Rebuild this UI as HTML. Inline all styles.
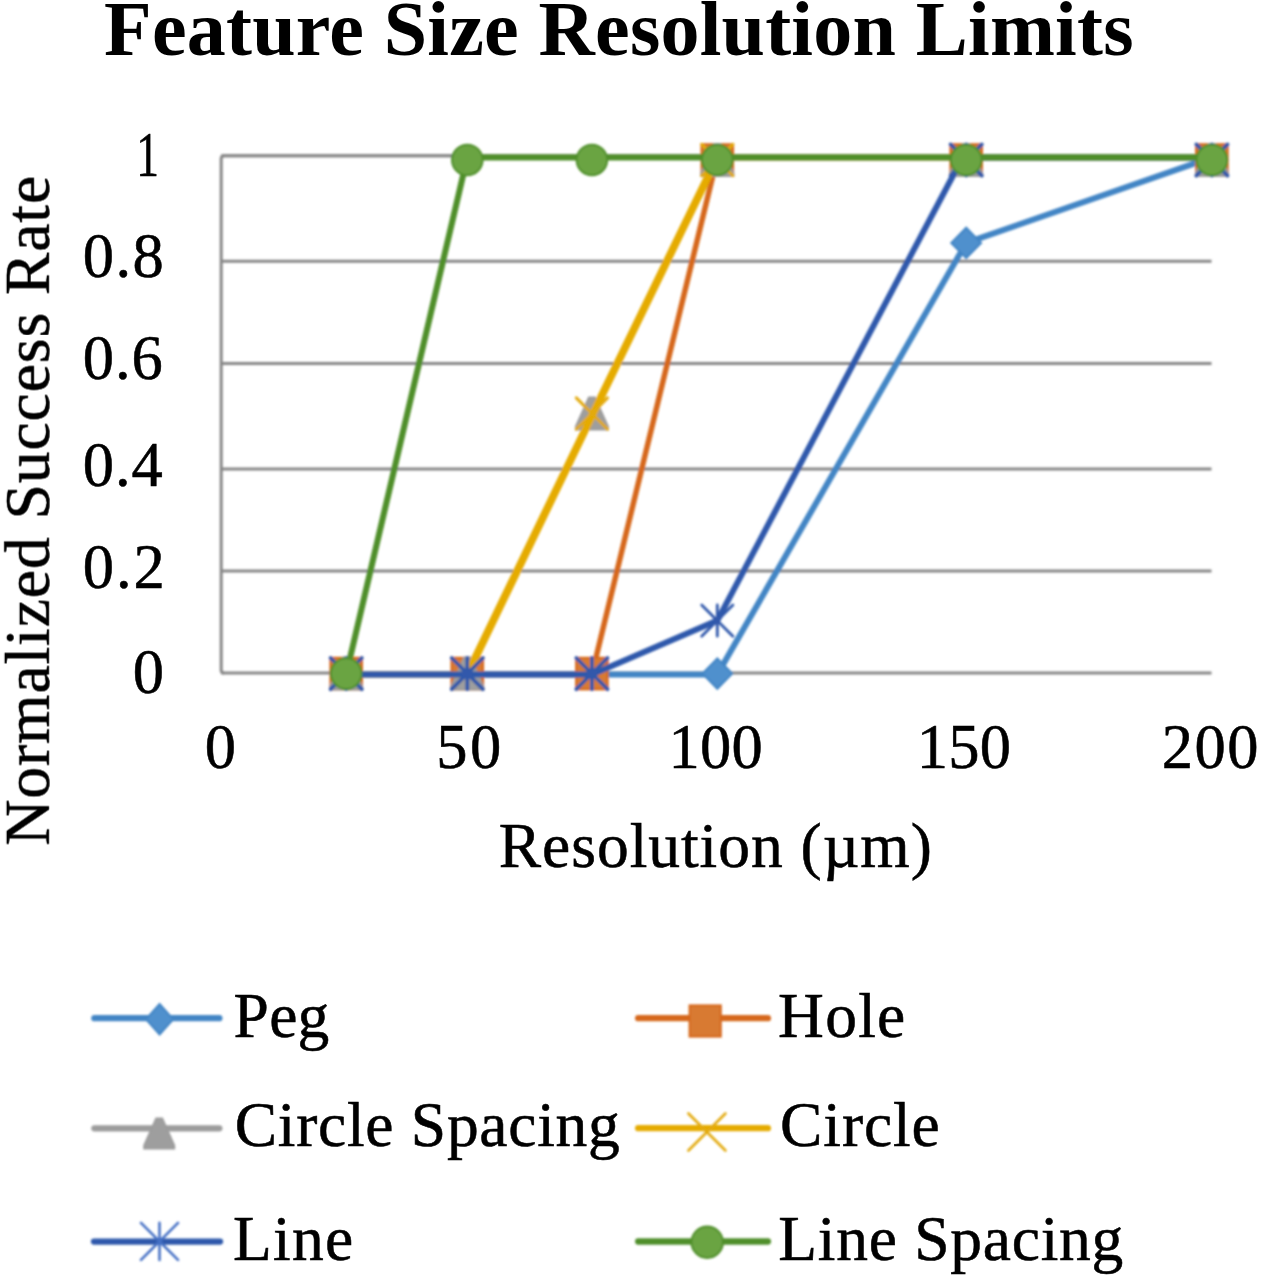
<!DOCTYPE html>
<html><head><meta charset="utf-8"><title>Feature Size Resolution Limits</title>
<style>html,body{margin:0;padding:0;background:#fff}body{width:1262px;height:1280px;position:relative;overflow:hidden}</style>
</head><body>
<svg width="1262" height="1280" viewBox="0 0 1262 1280" style="position:absolute;left:0;top:0">
<rect width="1262" height="1280" fill="#fff"/>
<defs><filter id="soft" x="0" y="0" width="1262" height="1280" filterUnits="userSpaceOnUse"><feGaussianBlur stdDeviation="1.0"/></filter><filter id="softt" x="0" y="0" width="1262" height="1280" filterUnits="userSpaceOnUse"><feGaussianBlur stdDeviation="0.65"/></filter></defs>
<g filter="url(#soft)">
<g id="grid">
<line x1="221.2" y1="155.7" x2="1211.5" y2="155.7" stroke="#878787" stroke-width="3"/>
<line x1="221.2" y1="261.3" x2="1211.5" y2="261.3" stroke="#878787" stroke-width="3"/>
<line x1="221.2" y1="363.4" x2="1211.5" y2="363.4" stroke="#878787" stroke-width="3"/>
<line x1="221.2" y1="469.0" x2="1211.5" y2="469.0" stroke="#878787" stroke-width="3"/>
<line x1="221.2" y1="571.0" x2="1211.5" y2="571.0" stroke="#878787" stroke-width="3"/>
<line x1="221.2" y1="672.9" x2="1211.5" y2="672.9" stroke="#878787" stroke-width="3"/>
<path d="M1000 155.7L224.2 155.7Q221.2 155.7 221.2 158.7L221.2 669.9Q221.2 672.9 224.2 672.9" stroke="#878787" stroke-width="3" fill="none"/>
</g>
<g id="s-peg">
<path d="M346.2 674.4 L467.3 674.4 L591.9 674.4 L717.3 674.4 L966.2 242.9 L1211.9 157.4" stroke="#4385c5" stroke-width="6.0" fill="none" stroke-linejoin="round" stroke-linecap="round"/>
<path d="M331.3 673.6L346.2 658.4L361.1 673.6L346.2 688.8Z" fill="#4f90cd" stroke="#4385c5" stroke-width="2" stroke-linejoin="miter"/>
<path d="M452.4 673.6L467.3 658.4L482.2 673.6L467.3 688.8Z" fill="#4f90cd" stroke="#4385c5" stroke-width="2" stroke-linejoin="miter"/>
<path d="M577.0 673.6L591.9 658.4L606.8 673.6L591.9 688.8Z" fill="#4f90cd" stroke="#4385c5" stroke-width="2" stroke-linejoin="miter"/>
<path d="M702.4 673.6L717.3 658.4L732.2 673.6L717.3 688.8Z" fill="#4f90cd" stroke="#4385c5" stroke-width="2" stroke-linejoin="miter"/>
<path d="M951.3 242.9L966.2 227.7L981.1 242.9L966.2 258.1Z" fill="#4f90cd" stroke="#4385c5" stroke-width="2" stroke-linejoin="miter"/>
<path d="M1197.0 160.0L1211.9 144.8L1226.8 160.0L1211.9 175.2Z" fill="#4f90cd" stroke="#4385c5" stroke-width="2" stroke-linejoin="miter"/>
</g>
<g id="s-hole">
<path d="M346.2 674.4 L467.3 674.4 L591.9 674.4 L717.3 157.4 L966.2 157.4 L1211.9 157.4" stroke="#d6671b" stroke-width="5.5" fill="none" stroke-linejoin="round" stroke-linecap="round"/>
<rect x="330.4" y="657.8" width="31.6" height="31.6" fill="#d87a33" stroke="#d6671b" stroke-width="2" stroke-linejoin="miter"/>
<rect x="451.5" y="657.8" width="31.6" height="31.6" fill="#d87a33" stroke="#d6671b" stroke-width="2" stroke-linejoin="miter"/>
<rect x="576.1" y="657.8" width="31.6" height="31.6" fill="#d87a33" stroke="#d6671b" stroke-width="2" stroke-linejoin="miter"/>
<rect x="701.5" y="144.2" width="31.6" height="31.6" fill="#d87a33" stroke="#d6671b" stroke-width="2" stroke-linejoin="miter"/>
<rect x="950.4" y="144.2" width="31.6" height="31.6" fill="#d87a33" stroke="#d6671b" stroke-width="2" stroke-linejoin="miter"/>
<rect x="1196.1" y="144.2" width="31.6" height="31.6" fill="#d87a33" stroke="#d6671b" stroke-width="2" stroke-linejoin="miter"/>
</g>
<g id="s-cs">
<path d="M346.2 674.4 L467.3 674.4 L591.9 415.9 L717.3 157.4 L966.2 157.4 L1211.9 157.4" stroke="#9c9c9c" stroke-width="5.5" fill="none" stroke-linejoin="round" stroke-linecap="round"/>
<path d="M343.2 657.6L349.2 657.6L362.2 686.6L362.2 689.6L330.2 689.6L330.2 686.6Z" fill="#9e9e9e" stroke="#9c9c9c" stroke-width="2" stroke-linejoin="miter"/>
<path d="M464.3 657.6L470.3 657.6L483.3 686.6L483.3 689.6L451.3 689.6L451.3 686.6Z" fill="#9e9e9e" stroke="#9c9c9c" stroke-width="2" stroke-linejoin="miter"/>
<path d="M588.9 397.5L594.9 397.5L607.9 426.5L607.9 429.5L575.9 429.5L575.9 426.5Z" fill="#9e9e9e" stroke="#9c9c9c" stroke-width="2" stroke-linejoin="miter"/>
<path d="M714.3 144.0L720.3 144.0L733.3 173.0L733.3 176.0L701.3 176.0L701.3 173.0Z" fill="#9e9e9e" stroke="#9c9c9c" stroke-width="2" stroke-linejoin="miter"/>
<path d="M963.2 144.0L969.2 144.0L982.2 173.0L982.2 176.0L950.2 176.0L950.2 173.0Z" fill="#9e9e9e" stroke="#9c9c9c" stroke-width="2" stroke-linejoin="miter"/>
<path d="M1208.9 144.0L1214.9 144.0L1227.9 173.0L1227.9 176.0L1195.9 176.0L1195.9 173.0Z" fill="#9e9e9e" stroke="#9c9c9c" stroke-width="2" stroke-linejoin="miter"/>
</g>
<g id="s-circ">
<path d="M346.2 674.4 L467.3 674.4 L591.9 415.9 L717.3 157.4 L966.2 157.4 L1211.9 157.4" stroke="#e5ab03" stroke-width="5.5" fill="none" stroke-linejoin="round" stroke-linecap="round"/>
<path d="M470.3 668.2L591.9 415.9L714.3 163.6" stroke="#e5ab03" stroke-width="7.8" fill="none" stroke-linejoin="round" stroke-linecap="butt"/>
<path d="M330.6 658.0L361.8 689.2M361.8 658.0L330.6 689.2" stroke="#e3aa10" stroke-width="3.0" fill="none" stroke-linecap="round"/>
<path d="M451.7 658.0L482.9 689.2M482.9 658.0L451.7 689.2" stroke="#e3aa10" stroke-width="3.0" fill="none" stroke-linecap="round"/>
<path d="M576.3 397.9L607.5 429.1M607.5 397.9L576.3 429.1" stroke="#e3aa10" stroke-width="3.0" fill="none" stroke-linecap="round"/>
<path d="M701.7 144.4L732.9 175.6M732.9 144.4L701.7 175.6" stroke="#e3aa10" stroke-width="3.0" fill="none" stroke-linecap="round"/>
<path d="M950.6 144.4L981.8 175.6M981.8 144.4L950.6 175.6" stroke="#e3aa10" stroke-width="3.0" fill="none" stroke-linecap="round"/>
<path d="M1196.3 144.4L1227.5 175.6M1227.5 144.4L1196.3 175.6" stroke="#e3aa10" stroke-width="3.0" fill="none" stroke-linecap="round"/>
</g>
<g id="s-line">
<path d="M346.2 674.4 L467.3 674.4 L591.9 674.4 L717.3 620.6 L962.7 157.4 L1211.9 157.4" stroke="#2d58ab" stroke-width="6.0" fill="none" stroke-linejoin="round" stroke-linecap="round"/>
<path d="M330.6 658.0L361.8 689.2M361.8 658.0L330.6 689.2M346.2 658.0L346.2 689.2" stroke="#3059ab" stroke-width="3.8" fill="none" stroke-linecap="round"/><circle cx="346.2" cy="673.6" r="5.7" fill="#3059ab"/>
<path d="M451.7 658.0L482.9 689.2M482.9 658.0L451.7 689.2M467.3 658.0L467.3 689.2" stroke="#3059ab" stroke-width="3.8" fill="none" stroke-linecap="round"/><circle cx="467.3" cy="673.6" r="5.7" fill="#3059ab"/>
<path d="M576.3 658.0L607.5 689.2M607.5 658.0L576.3 689.2M591.9 658.0L591.9 689.2" stroke="#3059ab" stroke-width="3.8" fill="none" stroke-linecap="round"/><circle cx="591.9" cy="673.6" r="5.7" fill="#3059ab"/>
<path d="M701.7 605.0L732.9 636.2M732.9 605.0L701.7 636.2M717.3 605.0L717.3 636.2" stroke="#3059ab" stroke-width="2.8" fill="none" stroke-linecap="round"/>
<path d="M950.6 144.4L981.8 175.6M981.8 144.4L950.6 175.6M966.2 144.4L966.2 175.6" stroke="#3059ab" stroke-width="3.8" fill="none" stroke-linecap="round"/><circle cx="966.2" cy="160.0" r="5.7" fill="#3059ab"/>
<path d="M1196.3 144.4L1227.5 175.6M1227.5 144.4L1196.3 175.6M1211.9 144.4L1211.9 175.6" stroke="#3059ab" stroke-width="3.8" fill="none" stroke-linecap="round"/><circle cx="1211.9" cy="160.0" r="5.7" fill="#3059ab"/>
</g>
<g id="s-ls">
<path d="M346.2 674.4 L467.3 157.4 L591.9 157.4 L717.3 157.4 L966.2 157.4 L1211.9 157.4" stroke="#4f8f2b" stroke-width="6.1" fill="none" stroke-linejoin="round" stroke-linecap="round"/>
<circle cx="346.2" cy="673.6" r="15.3" fill="#6aa443" stroke="#4f8f2b" stroke-width="2" stroke-linejoin="miter"/>
<circle cx="467.3" cy="160.0" r="15.3" fill="#6aa443" stroke="#4f8f2b" stroke-width="2" stroke-linejoin="miter"/>
<circle cx="591.9" cy="160.0" r="15.3" fill="#6aa443" stroke="#4f8f2b" stroke-width="2" stroke-linejoin="miter"/>
<circle cx="717.3" cy="160.0" r="15.3" fill="#6aa443" stroke="#4f8f2b" stroke-width="2" stroke-linejoin="miter"/>
<circle cx="966.2" cy="160.0" r="15.3" fill="#6aa443" stroke="#4f8f2b" stroke-width="2" stroke-linejoin="miter"/>
<circle cx="1211.9" cy="160.0" r="15.3" fill="#6aa443" stroke="#4f8f2b" stroke-width="2" stroke-linejoin="miter"/>
</g>
</g>
<g id="labels" filter="url(#softt)">
<text x="104.08" y="54.50" font-family="Liberation Serif, serif" font-size="78" font-weight="bold" letter-spacing="0.211" fill="#000">Feature Size Resolution Limits</text>
<text x="136.36" y="175.90" font-family="Liberation Serif, serif" font-size="62.5" stroke="#000" stroke-width="0.55" textLength="22.67" lengthAdjust="spacingAndGlyphs" fill="#000">1</text>
<text x="82.85" y="277.40" font-family="Liberation Serif, serif" font-size="62.5" stroke="#000" stroke-width="0.55" letter-spacing="1.341" fill="#000">0.8</text>
<text x="82.85" y="379.40" font-family="Liberation Serif, serif" font-size="62.5" stroke="#000" stroke-width="0.55" letter-spacing="0.852" fill="#000">0.6</text>
<text x="82.85" y="486.00" font-family="Liberation Serif, serif" font-size="62.5" stroke="#000" stroke-width="0.55" letter-spacing="0.852" fill="#000">0.4</text>
<text x="82.85" y="587.90" font-family="Liberation Serif, serif" font-size="62.5" stroke="#000" stroke-width="0.55" letter-spacing="1.829" fill="#000">0.2</text>
<text x="132.82" y="693.20" font-family="Liberation Serif, serif" font-size="62.5" stroke="#000" stroke-width="0.55" fill="#000">0</text>
<text x="204.77" y="768.40" font-family="Liberation Serif, serif" font-size="62.5" stroke="#000" stroke-width="0.55" fill="#000">0</text>
<text x="436.27" y="768.40" font-family="Liberation Serif, serif" font-size="62.5" stroke="#000" stroke-width="0.55" letter-spacing="2.383" fill="#000">50</text>
<text x="668.62" y="768.40" font-family="Liberation Serif, serif" font-size="62.5" stroke="#000" stroke-width="0.55" letter-spacing="0.243" fill="#000">100</text>
<text x="916.72" y="768.40" font-family="Liberation Serif, serif" font-size="62.5" stroke="#000" stroke-width="0.55" letter-spacing="0.243" fill="#000">150</text>
<text x="1161.65" y="768.40" font-family="Liberation Serif, serif" font-size="62.5" stroke="#000" stroke-width="0.55" letter-spacing="1.578" fill="#000">200</text>
<text x="498.71" y="866.80" font-family="Liberation Serif, serif" font-size="63.5" stroke="#000" stroke-width="0.55" letter-spacing="0.983" fill="#000">Resolution (µm)</text>
<text transform="translate(48.80 845.49) rotate(-90)" font-family="Liberation Serif, serif" font-size="63.5" stroke="#000" stroke-width="0.55" letter-spacing="0.941" fill="#000">Normalized Success Rate</text>
<text x="233.61" y="1037.00" font-family="Liberation Serif, serif" font-size="63.5" stroke="#000" stroke-width="0.55" letter-spacing="0.217" fill="#000">Peg</text>
<text x="778.11" y="1037.00" font-family="Liberation Serif, serif" font-size="63.5" stroke="#000" stroke-width="0.55" letter-spacing="1.218" fill="#000">Hole</text>
<text x="234.72" y="1146.40" font-family="Liberation Serif, serif" font-size="63.5" stroke="#000" stroke-width="0.55" letter-spacing="0.729" fill="#000">Circle Spacing</text>
<text x="780.12" y="1146.40" font-family="Liberation Serif, serif" font-size="63.5" stroke="#000" stroke-width="0.55" letter-spacing="0.885" fill="#000">Circle</text>
<text x="233.01" y="1259.70" font-family="Liberation Serif, serif" font-size="63.5" stroke="#000" stroke-width="0.55" letter-spacing="1.274" fill="#000">Line</text>
<text x="778.21" y="1259.70" font-family="Liberation Serif, serif" font-size="63.5" stroke="#000" stroke-width="0.55" letter-spacing="0.752" fill="#000">Line Spacing</text>
</g>
<g filter="url(#soft)">
<g id="legend">
<line x1="94.4" y1="1018.2" x2="219.3" y2="1018.2" stroke="#4385c5" stroke-width="6.3" stroke-linecap="round"/>
<path d="M146.0 1019.2L159.6 1004.0L173.2 1019.2L159.6 1034.4Z" fill="#4f90cd" stroke="#4385c5" stroke-width="2" stroke-linejoin="miter"/>
<line x1="638.2" y1="1018.2" x2="767.9" y2="1018.2" stroke="#d6671b" stroke-width="6.3" stroke-linecap="round"/>
<rect x="689.6" y="1005.4" width="31.2" height="31.2" fill="#d87a33" stroke="#d6671b" stroke-width="2" stroke-linejoin="miter"/>
<line x1="94.4" y1="1128.3" x2="219.3" y2="1128.3" stroke="#9c9c9c" stroke-width="6.3" stroke-linecap="round"/>
<path d="M156.2 1118.5L162.2 1118.5L174.2 1145.5L174.2 1148.5L144.2 1148.5L144.2 1145.5Z" fill="#9e9e9e" stroke="#9c9c9c" stroke-width="2" stroke-linejoin="miter"/>
<line x1="638.2" y1="1128.2" x2="767.9" y2="1128.2" stroke="#e5ab03" stroke-width="6.3" stroke-linecap="round"/>
<path d="M688.4 1113.5L725.4 1150.5M725.4 1113.5L688.4 1150.5" stroke="#e3aa10" stroke-width="2.6" fill="none" stroke-linecap="round"/>
<line x1="94.0" y1="1241.6" x2="220.0" y2="1241.6" stroke="#2d58ab" stroke-width="6.3" stroke-linecap="round"/>
<path d="M141.0 1222.9L178.0 1259.9M178.0 1222.9L141.0 1259.9M159.5 1222.9L159.5 1259.9" stroke="#4470c4" stroke-width="2.6" fill="none" stroke-linecap="round"/>
<line x1="638.2" y1="1241.5" x2="767.9" y2="1241.5" stroke="#4f8f2b" stroke-width="6.3" stroke-linecap="round"/>
<circle cx="707.2" cy="1242.2" r="15.7" fill="#6aa443" stroke="#4f8f2b" stroke-width="2" stroke-linejoin="miter"/>
</g>
</g>
</svg>
</body></html>
